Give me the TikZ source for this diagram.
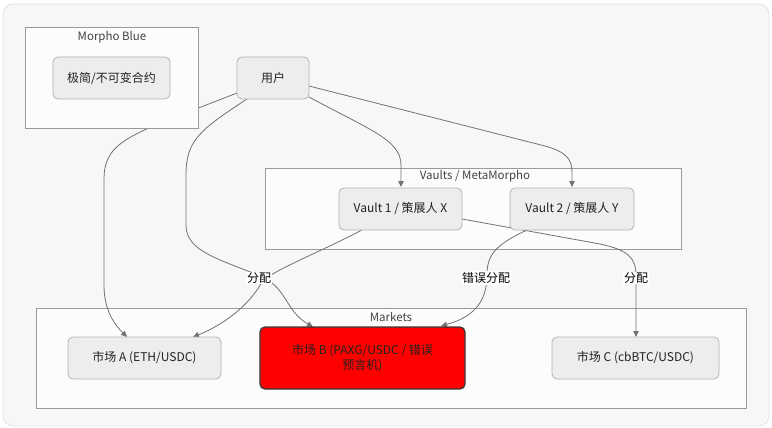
\documentclass[tikz,border=0pt]{standalone}
\usepackage{fontspec}
\setmainfont{Noto Sans CJK SC}
\usetikzlibrary{arrows.meta}
\definecolor{bgfill}{HTML}{F7F7F7}
\definecolor{bgline}{HTML}{E3E3E3}
\definecolor{clfill}{HTML}{FCFCFC}
\definecolor{clline}{HTML}{9A9A9A}
\definecolor{ndfill}{HTML}{EDEDED}
\definecolor{ndline}{HTML}{B3B3B3}
\definecolor{edgec}{HTML}{727272}
\definecolor{txt}{HTML}{222222}
\definecolor{redline}{HTML}{3A3A3A}
\begin{document}
\begin{tikzpicture}[x=1pt,y=-1pt,
  box/.style={draw=ndline, fill=ndfill, rounded corners=5pt, minimum height=42pt, inner sep=0pt, line width=0.8pt, text=txt, font=\fontsize{12}{15}\selectfont, align=center},
  redbox/.style={box, draw=redline, fill=red, line width=1.3pt, minimum height=62pt},
  cluster/.style={draw=clline, fill=clfill, line width=0.9pt, inner sep=0pt},
  clabel/.style={text=txt!85, font=\fontsize{11.5}{13}\selectfont, inner sep=0pt},
  edge/.style={draw=edgec, line width=0.8pt, -{Triangle[length=6pt,width=5.5pt]}},
  elabel/.style={fill=white, inner sep=1pt, text=black, font=\fontsize{12}{14}\selectfont}
]
\useasboundingbox (0,0) rectangle (772,428);
% background
\node[draw=bgline, fill=bgfill, rounded corners=10pt, minimum width=766pt, minimum height=422pt, inner sep=0pt, line width=0.8pt] (bg) at (386,215) {};

% clusters (below edges)
\node[cluster, minimum width=710pt, minimum height=100pt] (cmk) at (391,358) {};
\node[clabel] (lmk) at (391,317) {Markets};
\node[cluster, minimum width=416pt, minimum height=81pt] (cva) at (473,208.5) {};
\node[clabel] (lva) at (475,176) {Vaults / MetaMorpho};

% named points for connector ends
\coordinate (uw) at (237,93);
\coordinate (us) at (247,99);
\coordinate (ue1) at (309,97);
\coordinate (ue2) at (309,86);
\coordinate (atop1) at (127,337);
\coordinate (atop2) at (193,337);
\coordinate (btop1) at (313,327);
\coordinate (btop2) at (441,326);
\coordinate (v1s) at (362,230);
\coordinate (v1e) at (462,219);
\coordinate (v2s) at (527,230);
\coordinate (v1n) at (401,187);
\coordinate (v2n) at (572,187);
\coordinate (ctop) at (636,337);

% edges
\draw[edge] (uw) .. controls (130,135) and (104,140) .. (104,180) -- (104,285) .. controls (104,312) and (116,326) .. (atop1);
\draw[edge] (us) .. controls (200,130) and (186,140) .. (186,175) -- (186,225) .. controls (186,250) and (215,258) .. (258,275) .. controls (288,287) and (284,310) .. (btop1);
\draw[edge] (ue1) .. controls (370,130) and (401,140) .. (401,165) -- (v1n);
\draw[edge] (ue2) -- (545,146) .. controls (567,152) and (572,160) .. (572,172) -- (v2n);
\draw[edge] (v1s) .. controls (320,252) and (285,265) .. (263,280) .. controls (253,300) and (230,322) .. (atop2);
\draw[edge] (v2s) .. controls (495,245) and (487,255) .. (487,275) .. controls (487,305) and (470,318) .. (btop2);
\draw[edge] (v1e) -- (600,244) .. controls (628,250) and (636,258) .. (636,275) -- (ctop);

% Morpho Blue cluster (covers the part of the edge behind it)
\node[cluster, minimum width=173pt, minimum height=101pt] (cmb) at (111.5,77.5) {};
\node[clabel] (lmb) at (112,37) {Morpho Blue};

% edge labels
\node[elabel] (l1) at (259,278) {分配};
\node[elabel] (l2) at (486,278) {错误分配};
\node[elabel] (l3) at (636,278) {分配};

% nodes
\node[box, minimum width=117pt] (core) at (111.5,78) {极简/不可变合约};
\node[box, minimum width=72pt] (user) at (273,78) {用户};
\node[box, minimum width=123pt] (v1) at (400.5,209) {Vault 1 / 策展人 X};
\node[box, minimum width=124pt] (v2) at (572,209) {Vault 2 / 策展人 Y};
\node[box, minimum width=153pt] (ma) at (144.5,358) {市场 A (ETH/USDC)};
\node[redbox, minimum width=205pt] (mb) at (362.5,358) {市场 B (PAXG/USDC / 错误\\预言机)};
\node[box, minimum width=167pt] (mc) at (635.5,358) {市场 C (cbBTC/USDC)};
\end{tikzpicture}
\end{document}
